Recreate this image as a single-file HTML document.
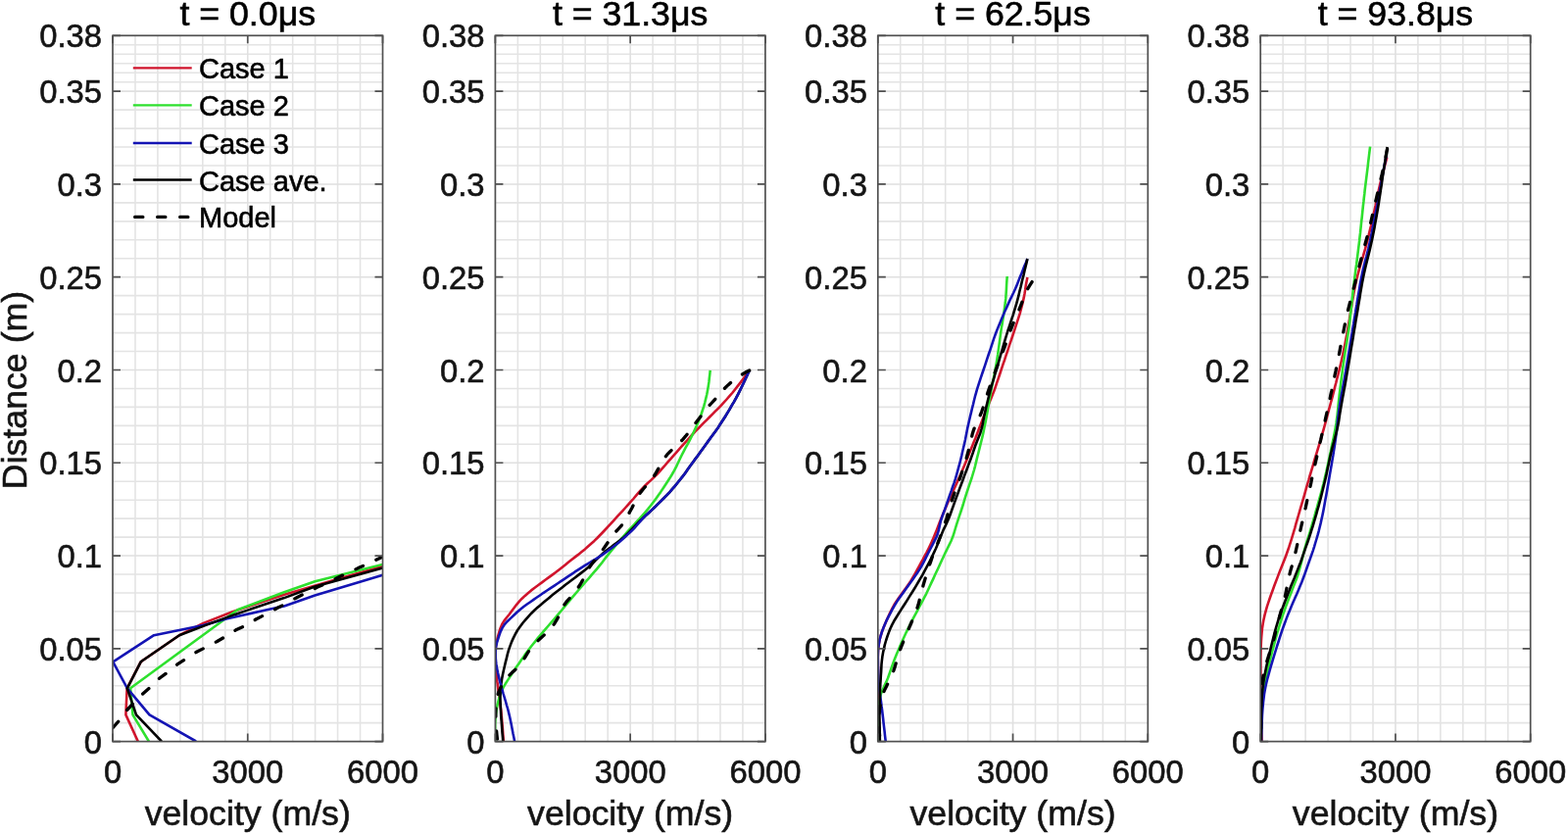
<!DOCTYPE html><html><head><meta charset="utf-8"><title>Velocity profiles</title>
<style>html,body{margin:0;padding:0;background:#fff;}svg{display:block;}text{font-family:'Liberation Sans', Arial, Helvetica, sans-serif;fill:#000;stroke:#000;stroke-width:0.6px;}text.g{fill:#141414;stroke:#141414;}</style></head><body>
<svg width="1600" height="851" viewBox="0 0 1600 851">
<rect width="1600" height="851" fill="#fff"/>
<g>
<path d="M137.96 36.30V756.60M160.92 36.30V756.60M183.88 36.30V756.60M206.83 36.30V756.60M229.79 36.30V756.60M275.71 36.30V756.60M298.67 36.30V756.60M321.62 36.30V756.60M344.58 36.30V756.60M367.54 36.30V756.60M115.00 737.64H390.50M115.00 718.69H390.50M115.00 699.73H390.50M115.00 680.78H390.50M115.00 642.87H390.50M115.00 623.91H390.50M115.00 604.96H390.50M115.00 586.00H390.50M115.00 548.09H390.50M115.00 529.14H390.50M115.00 510.18H390.50M115.00 491.23H390.50M115.00 453.32H390.50M115.00 434.36H390.50M115.00 415.41H390.50M115.00 396.45H390.50M115.00 358.54H390.50M115.00 339.58H390.50M115.00 320.63H390.50M115.00 301.67H390.50M115.00 263.76H390.50M115.00 244.81H390.50M115.00 225.85H390.50M115.00 206.90H390.50M115.00 168.99H390.50M115.00 150.03H390.50M115.00 131.08H390.50M115.00 112.12H390.50M115.00 83.69H390.50M115.00 74.21H390.50M115.00 64.73H390.50M115.00 55.26H390.50M115.00 45.78H390.50" stroke="#e4e4e4" stroke-width="1.6" fill="none"/>
<path d="M252.75 36.30V756.60M115.00 661.82H390.50M115.00 567.05H390.50M115.00 472.27H390.50M115.00 377.49H390.50M115.00 282.72H390.50M115.00 187.94H390.50M115.00 93.17H390.50" stroke="#e0e0e0" stroke-width="1.6" fill="none"/>
<g fill="none" stroke-linejoin="round" stroke-linecap="butt">
<clipPath id="c0"><rect x="115.00" y="36.30" width="275.50" height="720.30"/></clipPath>
<g clip-path="url(#c0)">
<path d="M140.8 756.5L128.4 729.4L129.6 702.3L143.7 675.3L183.0 648.2L207.5 635.9L237.3 624.3L290.0 606.8L391.5 577.2" stroke="#d0142c" stroke-width="2.60"/>
<path d="M151.9 756.5L135.5 729.4L133.1 702.3L242.4 622.3L290.0 604.2L321.4 593.3L391.5 575.6" stroke="#2ee02e" stroke-width="2.60"/>
<path d="M200.1 756.5L152.5 729.4L129.9 702.3L115.3 675.3L157.1 648.2L207.5 637.9L230.8 631.4L272.2 622.3L290.0 618.5L321.4 607.5L391.5 586.5" stroke="#1414b4" stroke-width="2.60"/>
<path d="M164.9 756.5L139.0 729.4L129.8 702.3L143.7 675.3L183.0 648.2L210.1 637.9L239.9 626.9L290.0 610.1L321.4 598.5L391.5 579.3" stroke="#000000" stroke-width="2.60"/>
<path d="M115.3 742.5L122.6 734.0L129.6 724.5L136.7 717.0L145.5 708.2L154.3 700.5L162.5 692.3L171.9 685.3L181.7 677.3L191.0 671.5L201.0 665.0L211.4 659.8L221.1 654.7L231.5 648.8L241.3 642.4L251.6 637.9L262.0 631.4L272.3 626.3L282.7 620.5L293.0 615.3L303.3 609.5L313.7 604.3L324.0 599.1L334.4 594.6L346.0 588.8L355.7 584.3L366.7 579.1L377.0 574.6L391.5 567.6" stroke="#000000" stroke-width="3.30" stroke-dasharray="8.3 14.7" stroke-linecap="round"/>
</g></g>
<rect x="115.00" y="36.30" width="275.50" height="720.30" fill="none" stroke="#505050" stroke-width="1.7"/>
<path d="M115.00 756.60h8.00M390.50 756.60h-8.00M115.00 661.82h8.00M390.50 661.82h-8.00M115.00 567.05h8.00M390.50 567.05h-8.00M115.00 472.27h8.00M390.50 472.27h-8.00M115.00 377.49h8.00M390.50 377.49h-8.00M115.00 282.72h8.00M390.50 282.72h-8.00M115.00 187.94h8.00M390.50 187.94h-8.00M115.00 93.17h8.00M390.50 93.17h-8.00M115.00 36.30h8.00M390.50 36.30h-8.00M115.00 756.60v-8.00M115.00 36.30v8.00M252.75 756.60v-8.00M252.75 36.30v8.00M390.50 756.60v-8.00M390.50 36.30v8.00" stroke="#505050" stroke-width="1.7" fill="none"/>
<text x="104.10" y="768.70" font-size="32.8" text-anchor="end" class="g">0</text>
<text x="104.10" y="673.92" font-size="32.8" text-anchor="end" class="g">0.05</text>
<text x="104.10" y="579.15" font-size="32.8" text-anchor="end" class="g">0.1</text>
<text x="104.10" y="484.37" font-size="32.8" text-anchor="end" class="g">0.15</text>
<text x="104.10" y="389.59" font-size="32.8" text-anchor="end" class="g">0.2</text>
<text x="104.10" y="294.82" font-size="32.8" text-anchor="end" class="g">0.25</text>
<text x="104.10" y="200.04" font-size="32.8" text-anchor="end" class="g">0.3</text>
<text x="104.10" y="105.27" font-size="32.8" text-anchor="end" class="g">0.35</text>
<text x="104.10" y="48.40" font-size="32.8" text-anchor="end" class="g">0.38</text>
<text x="115.00" y="798.70" font-size="32.8" text-anchor="middle" class="g">0</text>
<text x="252.75" y="798.70" font-size="32.8" text-anchor="middle" class="g">3000</text>
<text x="390.50" y="798.70" font-size="32.8" text-anchor="middle" class="g">6000</text>
<text x="252.75" y="841.90" font-size="35.7" text-anchor="middle" class="g">velocity (m/s)</text>
<text x="252.75" y="26.00" font-size="35.7" text-anchor="middle">t = 0.0μs</text>
</g>
<g>
<path d="M528.36 36.30V756.60M551.32 36.30V756.60M574.27 36.30V756.60M597.23 36.30V756.60M620.19 36.30V756.60M666.11 36.30V756.60M689.07 36.30V756.60M712.02 36.30V756.60M734.98 36.30V756.60M757.94 36.30V756.60M505.40 737.64H780.90M505.40 718.69H780.90M505.40 699.73H780.90M505.40 680.78H780.90M505.40 642.87H780.90M505.40 623.91H780.90M505.40 604.96H780.90M505.40 586.00H780.90M505.40 548.09H780.90M505.40 529.14H780.90M505.40 510.18H780.90M505.40 491.23H780.90M505.40 453.32H780.90M505.40 434.36H780.90M505.40 415.41H780.90M505.40 396.45H780.90M505.40 358.54H780.90M505.40 339.58H780.90M505.40 320.63H780.90M505.40 301.67H780.90M505.40 263.76H780.90M505.40 244.81H780.90M505.40 225.85H780.90M505.40 206.90H780.90M505.40 168.99H780.90M505.40 150.03H780.90M505.40 131.08H780.90M505.40 112.12H780.90M505.40 83.69H780.90M505.40 74.21H780.90M505.40 64.73H780.90M505.40 55.26H780.90M505.40 45.78H780.90" stroke="#e4e4e4" stroke-width="1.6" fill="none"/>
<path d="M643.15 36.30V756.60M505.40 661.82H780.90M505.40 567.05H780.90M505.40 472.27H780.90M505.40 377.49H780.90M505.40 282.72H780.90M505.40 187.94H780.90M505.40 93.17H780.90" stroke="#e0e0e0" stroke-width="1.6" fill="none"/>
<g fill="none" stroke-linejoin="round" stroke-linecap="butt">
<clipPath id="c1"><rect x="505.40" y="36.30" width="275.50" height="720.30"/></clipPath>
<g clip-path="url(#c1)">
<path d="M764.7 378.0L762.3 381.3L759.9 384.5L757.5 387.8L755.0 391.1L752.4 394.4L749.8 397.7L747.2 401.0L744.4 404.2L741.5 407.5L738.6 410.7L735.7 413.8L732.8 416.8L729.9 419.7L727.0 422.6L724.1 425.5L721.3 428.3L718.4 431.2L715.5 434.1L712.7 437.0L709.8 439.9L706.9 443.0L704.1 446.1L701.2 449.3L698.4 452.4L695.5 455.5L692.8 458.7L690.0 461.8L687.3 464.9L684.5 468.1L681.7 471.2L678.9 474.5L676.1 477.7L673.3 480.9L670.3 484.1L667.2 487.1L664.1 490.1L660.9 493.0L657.8 496.0L654.8 499.2L651.9 502.4L649.1 505.7L646.3 509.0L643.4 512.2L640.6 515.4L637.8 518.5L635.0 521.6L632.1 524.7L629.3 527.7L626.5 530.8L623.7 533.9L620.9 536.9L618.0 540.0L615.2 543.0L612.3 546.0L609.4 549.0L606.4 551.9L603.2 554.7L600.1 557.5L596.9 560.4L593.6 563.1L590.1 565.9L586.5 568.6L583.1 571.2L579.9 573.8L576.7 576.4L573.5 578.9L570.3 581.4L567.0 584.0L563.5 586.6L560.0 589.1L556.4 591.7L552.9 594.4L549.3 597.0L545.6 599.7L542.1 602.4L538.8 605.2L535.7 607.9L532.7 610.7L529.9 613.6L527.2 616.8L524.8 620.0L522.3 623.3L519.8 626.7L517.1 630.0L514.5 633.4L512.3 637.0L510.6 640.9L509.3 645.1L508.1 649.3L507.0 653.6L506.2 657.8L505.7 662.1L505.4 666.4L505.4 670.6L505.5 674.7L505.8 678.7L506.1 682.7L506.4 686.8L506.8 690.9L507.3 695.2L507.9 699.5L508.4 703.8L509.0 708.1L509.6 712.4L510.2 716.7L510.7 721.0L511.3 725.3L511.7 729.6L512.1 733.8L512.4 738.0L512.8 742.2L513.1 746.4L513.4 750.6L513.7 754.8L513.9 756.9" stroke="#d0142c" stroke-width="2.60"/>
<path d="M724.7 377.8L724.3 381.8L723.8 385.8L723.4 389.9L722.8 393.9L722.1 398.0L721.3 402.2L720.3 406.4L719.3 410.5L718.2 414.6L716.9 418.5L715.6 422.5L714.0 426.5L712.4 430.8L710.6 434.9L708.8 438.9L707.0 442.7L705.2 446.4L703.3 450.1L701.4 453.7L699.4 457.2L697.5 460.8L695.6 464.5L693.8 468.3L691.9 472.2L690.1 476.1L688.0 480.1L685.8 484.0L683.5 487.8L681.1 491.5L678.8 495.0L676.5 498.4L674.2 501.9L671.7 505.4L669.2 508.9L666.6 512.5L663.9 516.0L661.2 519.4L658.3 522.8L655.4 526.1L652.5 529.4L649.6 532.5L646.8 535.6L643.9 538.7L641.1 541.7L638.3 544.8L635.5 548.0L632.6 551.3L629.8 554.7L627.0 558.1L624.2 561.4L621.6 564.7L619.0 567.9L616.6 571.0L614.2 574.2L611.6 577.4L609.0 580.6L606.3 583.7L603.5 586.9L600.8 590.1L598.0 593.2L595.2 596.5L592.4 599.7L589.6 603.0L586.7 606.3L583.9 609.6L581.2 612.8L578.5 616.1L575.8 619.4L573.1 622.7L570.4 625.9L567.7 629.1L565.0 632.3L562.3 635.4L559.6 638.5L556.9 641.6L554.3 644.7L551.6 647.8L549.0 650.9L546.5 654.1L543.9 657.3L541.3 660.5L538.9 663.7L536.4 667.1L534.1 670.5L531.7 673.8L529.4 677.2L527.0 680.6L524.7 684.0L522.4 687.5L520.2 690.9L517.9 694.4L515.7 697.8L513.6 701.4L511.8 705.2L510.3 709.1L509.1 713.2L508.0 717.3L507.1 721.4L506.4 725.6L505.9 729.8L505.5 734.0L505.2 738.2L505.2 742.3L505.2 746.5L505.2 750.7L505.2 754.8L505.2 756.9" stroke="#2ee02e" stroke-width="2.60"/>
<path d="M764.7 378.0L762.8 382.2L760.8 386.4L758.9 390.5L757.0 394.5L755.1 398.4L753.1 402.3L751.1 406.2L748.9 410.1L746.6 413.9L744.4 417.8L742.1 421.6L739.9 425.2L737.6 428.8L735.3 432.3L733.0 435.9L730.5 439.4L727.9 443.0L725.3 446.6L722.7 450.1L720.1 453.7L717.6 457.2L715.0 460.8L712.4 464.4L709.8 467.9L707.2 471.5L704.6 475.1L701.9 478.8L699.2 482.7L696.4 486.4L693.7 489.8L691.1 493.0L688.6 496.1L685.9 499.2L683.2 502.3L680.3 505.4L677.2 508.5L674.1 511.6L671.0 514.7L667.9 517.7L664.8 520.6L661.7 523.5L658.6 526.3L655.5 529.2L652.5 532.0L649.7 534.9L646.9 537.8L644.1 540.7L641.3 543.6L638.5 546.4L635.5 549.1L632.4 551.6L629.1 554.0L625.9 556.4L622.7 558.9L619.4 561.3L616.2 563.8L613.1 566.6L609.9 569.6L606.8 572.7L603.6 575.8L600.4 578.7L597.1 581.5L593.7 584.1L590.4 586.6L587.0 589.2L583.6 591.7L580.3 594.3L576.9 596.8L573.6 599.4L570.3 602.0L567.0 604.5L563.8 607.1L560.7 609.7L557.6 612.3L554.5 614.8L551.4 617.4L548.3 620.1L545.3 622.8L542.3 625.7L539.4 628.9L536.5 632.1L533.6 635.5L530.8 639.2L528.1 643.0L525.8 647.1L523.8 651.1L522.0 655.1L520.5 659.1L519.1 663.2L517.9 667.4L516.9 671.6L515.8 675.9L514.8 680.2L513.8 684.5L512.9 688.8L512.1 693.1L511.5 697.4L510.9 701.6L510.6 706.0L510.5 710.3L510.5 714.6L510.7 718.9L510.9 723.2L511.1 727.5L511.3 731.7L511.7 735.9L512.0 740.1L512.3 744.3L512.6 748.5L513.0 752.7L513.3 756.9" stroke="#000000" stroke-width="2.60"/>
<path d="M764.7 378.0L762.8 382.2L760.8 386.4L758.9 390.5L757.0 394.5L755.1 398.4L753.1 402.3L751.1 406.2L748.9 410.1L746.6 413.9L744.4 417.8L742.1 421.6L739.9 425.2L737.6 428.8L735.3 432.3L733.0 435.9L730.5 439.4L727.9 443.0L725.3 446.6L722.7 450.1L720.1 453.7L717.6 457.2L715.0 460.8L712.4 464.4L709.8 467.9L707.2 471.5L704.6 475.1L701.9 478.8L699.2 482.7L696.4 486.4L693.7 489.8L691.1 493.0L688.6 496.1L685.9 499.2L683.2 502.3L680.3 505.4L677.2 508.5L674.1 511.6L671.0 514.7L667.9 517.7L664.8 520.6L661.7 523.5L658.6 526.3L655.6 529.3L652.7 532.7L649.8 536.0L646.9 539.4L643.9 542.3L640.8 545.1L637.7 548.0L634.6 550.8L631.5 553.5L628.2 556.1L624.8 558.7L621.4 561.2L618.0 563.7L614.6 566.1L611.1 568.4L607.6 570.5L604.1 572.6L600.5 574.8L597.0 576.9L593.5 579.1L590.0 581.4L586.4 583.7L582.9 586.1L579.4 588.4L575.8 590.8L572.3 593.1L568.8 595.5L565.3 597.8L561.8 600.1L558.2 602.5L554.7 604.8L551.3 607.2L547.9 609.5L544.5 611.9L541.2 614.2L537.8 616.5L534.4 619.0L531.0 621.8L527.5 624.8L524.1 628.0L520.8 631.1L517.5 634.2L514.7 637.4L512.5 640.9L510.7 644.6L509.4 648.4L508.1 652.3L506.9 656.2L506.1 660.3L505.7 664.6L505.7 669.0L505.9 673.5L506.4 678.0L507.2 682.4L508.1 686.8L509.1 691.1L510.1 695.3L511.2 699.4L512.4 703.5L513.5 707.5L514.7 711.5L515.9 715.5L517.0 719.5L518.2 723.5L519.2 727.6L520.2 731.7L521.1 735.9L521.9 740.1L522.7 744.3L523.5 748.5L524.4 752.7L525.2 756.9" stroke="#1414b4" stroke-width="2.60"/>
<path d="M764.7 378.0L760.5 380.1L756.6 382.5L752.9 384.9L749.5 387.5L746.1 390.1L742.9 392.9L739.9 395.8L737.0 398.8L734.4 401.9L731.7 405.2L728.8 408.3L725.9 411.5L722.9 414.7L720.2 418.1L717.6 421.5L715.0 424.9L712.4 428.3L709.8 431.6L707.2 435.1L704.6 438.5L702.1 441.9L699.5 445.2L696.8 448.3L693.9 451.4L690.6 454.5L687.1 457.6L683.8 460.8L680.7 463.9L678.0 467.4L675.6 471.1L673.5 475.0L671.4 478.9L669.3 482.6L667.1 486.3L664.7 489.6L662.0 492.7L659.2 495.8L656.4 499.0L653.7 502.4L651.3 506.3L649.1 510.2L646.9 514.3L644.9 518.2L642.8 522.0L640.8 525.8L638.7 529.8L636.3 533.6L633.4 537.2L630.2 540.6L627.1 543.8L624.5 547.2L622.2 550.6L619.9 554.0L617.5 557.5L615.1 561.0L612.5 564.5L609.9 567.9L607.1 571.3L604.4 574.7L601.9 578.2L599.8 581.8L597.9 585.5L596.0 589.3L594.1 592.9L592.0 596.5L589.7 599.9L587.1 603.4L584.4 606.8L581.4 610.2L578.4 613.6L575.8 617.1L573.6 620.7L571.9 624.5L570.3 628.4L568.3 632.2L566.0 635.9L563.4 639.4L560.6 642.6L557.8 645.5L554.8 648.4L551.6 651.3L548.4 654.3L545.4 657.3L542.6 660.5L540.1 663.7L537.9 667.1L535.8 670.6L533.7 674.1L531.3 677.5L528.6 680.5L525.7 683.4L522.7 686.1L519.8 688.9L517.1 692.0L514.7 695.3L512.4 698.9L510.4 702.6L508.6 706.6L507.4 710.8L506.6 715.4L506.2 719.9L505.9 724.3L505.8 728.6L505.9 732.8L506.1 737.0L506.3 741.3L506.6 745.7L507.0 750.1L507.5 754.6L507.7 756.9" stroke="#000000" stroke-width="3.30" stroke-dasharray="8.3 14.7" stroke-linecap="round"/>
</g></g>
<rect x="505.40" y="36.30" width="275.50" height="720.30" fill="none" stroke="#505050" stroke-width="1.7"/>
<path d="M505.40 756.60h8.00M780.90 756.60h-8.00M505.40 661.82h8.00M780.90 661.82h-8.00M505.40 567.05h8.00M780.90 567.05h-8.00M505.40 472.27h8.00M780.90 472.27h-8.00M505.40 377.49h8.00M780.90 377.49h-8.00M505.40 282.72h8.00M780.90 282.72h-8.00M505.40 187.94h8.00M780.90 187.94h-8.00M505.40 93.17h8.00M780.90 93.17h-8.00M505.40 36.30h8.00M780.90 36.30h-8.00M505.40 756.60v-8.00M505.40 36.30v8.00M643.15 756.60v-8.00M643.15 36.30v8.00M780.90 756.60v-8.00M780.90 36.30v8.00" stroke="#505050" stroke-width="1.7" fill="none"/>
<text x="494.50" y="768.70" font-size="32.8" text-anchor="end" class="g">0</text>
<text x="494.50" y="673.92" font-size="32.8" text-anchor="end" class="g">0.05</text>
<text x="494.50" y="579.15" font-size="32.8" text-anchor="end" class="g">0.1</text>
<text x="494.50" y="484.37" font-size="32.8" text-anchor="end" class="g">0.15</text>
<text x="494.50" y="389.59" font-size="32.8" text-anchor="end" class="g">0.2</text>
<text x="494.50" y="294.82" font-size="32.8" text-anchor="end" class="g">0.25</text>
<text x="494.50" y="200.04" font-size="32.8" text-anchor="end" class="g">0.3</text>
<text x="494.50" y="105.27" font-size="32.8" text-anchor="end" class="g">0.35</text>
<text x="494.50" y="48.40" font-size="32.8" text-anchor="end" class="g">0.38</text>
<text x="505.40" y="798.70" font-size="32.8" text-anchor="middle" class="g">0</text>
<text x="643.15" y="798.70" font-size="32.8" text-anchor="middle" class="g">3000</text>
<text x="780.90" y="798.70" font-size="32.8" text-anchor="middle" class="g">6000</text>
<text x="643.15" y="841.90" font-size="35.7" text-anchor="middle" class="g">velocity (m/s)</text>
<text x="643.15" y="26.00" font-size="35.7" text-anchor="middle">t = 31.3μs</text>
</g>
<g>
<path d="M918.76 36.30V756.60M941.72 36.30V756.60M964.67 36.30V756.60M987.63 36.30V756.60M1010.59 36.30V756.60M1056.51 36.30V756.60M1079.47 36.30V756.60M1102.42 36.30V756.60M1125.38 36.30V756.60M1148.34 36.30V756.60M895.80 737.64H1171.30M895.80 718.69H1171.30M895.80 699.73H1171.30M895.80 680.78H1171.30M895.80 642.87H1171.30M895.80 623.91H1171.30M895.80 604.96H1171.30M895.80 586.00H1171.30M895.80 548.09H1171.30M895.80 529.14H1171.30M895.80 510.18H1171.30M895.80 491.23H1171.30M895.80 453.32H1171.30M895.80 434.36H1171.30M895.80 415.41H1171.30M895.80 396.45H1171.30M895.80 358.54H1171.30M895.80 339.58H1171.30M895.80 320.63H1171.30M895.80 301.67H1171.30M895.80 263.76H1171.30M895.80 244.81H1171.30M895.80 225.85H1171.30M895.80 206.90H1171.30M895.80 168.99H1171.30M895.80 150.03H1171.30M895.80 131.08H1171.30M895.80 112.12H1171.30M895.80 83.69H1171.30M895.80 74.21H1171.30M895.80 64.73H1171.30M895.80 55.26H1171.30M895.80 45.78H1171.30" stroke="#e4e4e4" stroke-width="1.6" fill="none"/>
<path d="M1033.55 36.30V756.60M895.80 661.82H1171.30M895.80 567.05H1171.30M895.80 472.27H1171.30M895.80 377.49H1171.30M895.80 282.72H1171.30M895.80 187.94H1171.30M895.80 93.17H1171.30" stroke="#e0e0e0" stroke-width="1.6" fill="none"/>
<g fill="none" stroke-linejoin="round" stroke-linecap="butt">
<clipPath id="c2"><rect x="895.80" y="36.30" width="275.50" height="720.30"/></clipPath>
<g clip-path="url(#c2)">
<path d="M1048.4 282.9L1047.6 287.0L1046.8 291.1L1046.2 295.4L1045.5 299.7L1044.7 303.9L1043.8 307.9L1042.8 311.9L1041.8 315.8L1040.7 319.8L1039.5 323.7L1038.2 327.7L1036.9 331.6L1035.6 335.6L1034.3 339.5L1033.0 343.5L1031.7 347.4L1030.3 351.4L1029.0 355.3L1027.7 359.3L1026.4 363.2L1025.1 367.2L1023.7 371.1L1022.4 375.1L1021.1 379.0L1019.8 383.0L1018.5 386.9L1017.1 390.9L1015.8 394.8L1014.4 398.8L1012.8 402.7L1011.2 406.7L1009.6 410.6L1007.9 414.6L1006.4 418.5L1004.8 422.4L1003.3 426.3L1001.8 430.2L1000.3 434.1L998.7 438.3L997.1 442.5L995.5 446.7L993.8 450.7L992.3 454.6L990.7 458.5L989.1 462.5L987.6 466.4L986.0 470.3L984.4 474.2L982.8 478.1L981.1 482.0L979.4 486.0L977.6 489.9L975.9 493.8L974.1 497.7L972.4 501.6L970.6 505.4L968.8 509.2L967.1 513.1L965.4 517.0L963.7 520.9L962.1 524.9L960.4 529.0L958.8 533.0L957.2 537.1L955.7 541.1L954.1 545.1L952.5 548.9L950.9 552.6L949.2 556.3L947.4 560.0L945.6 563.6L943.6 567.2L941.7 570.9L939.7 574.5L937.7 578.1L935.6 581.8L933.6 585.5L931.5 589.2L929.3 592.9L926.9 596.5L924.4 600.1L921.8 603.6L919.3 607.1L916.8 610.5L914.4 613.9L912.2 617.5L910.3 621.1L908.4 624.9L906.6 628.7L904.9 632.6L903.2 636.6L901.5 640.6L899.9 644.8L898.6 649.0L897.5 653.3L896.7 657.7L896.1 662.1L895.9 666.5L895.8 670.8L895.8 675.1L895.9 679.3L896.0 683.5L896.0 687.6L896.1 691.7L896.2 695.9L896.3 700.0L896.4 704.2L896.5 708.5L896.5 712.7L896.6 716.9L896.7 721.2L896.8 725.4L896.8 729.6L896.9 733.8L897.0 737.9L897.0 742.1L897.1 746.3L897.2 750.4L897.3 754.6L897.3 756.7" stroke="#d0142c" stroke-width="2.60"/>
<path d="M1027.7 282.0L1027.4 286.4L1027.1 290.8L1026.9 295.3L1026.6 299.8L1026.3 304.4L1025.8 308.8L1025.2 313.2L1024.6 317.6L1024.0 322.0L1023.3 326.4L1022.6 330.7L1021.8 335.1L1021.2 339.5L1020.6 343.9L1020.0 348.3L1019.4 352.7L1018.8 357.1L1018.2 361.5L1017.5 365.9L1016.8 370.2L1016.0 374.6L1015.3 378.8L1014.5 382.9L1013.7 386.9L1012.8 390.9L1012.0 394.9L1011.2 399.0L1010.5 403.2L1009.7 407.6L1009.0 411.9L1008.2 416.3L1007.5 420.6L1006.7 424.9L1005.9 429.2L1005.0 433.6L1004.1 438.0L1003.2 442.4L1002.2 446.7L1001.2 450.7L1000.2 454.6L999.2 458.6L998.2 462.7L997.1 466.9L996.1 471.1L995.1 475.3L994.0 479.5L992.8 483.5L991.6 487.5L990.3 491.3L989.0 495.1L987.7 499.0L986.4 502.8L985.2 506.7L984.0 510.6L982.9 514.5L981.6 518.5L980.3 522.5L978.9 526.7L977.5 530.8L976.1 535.1L974.8 539.5L973.5 543.8L972.1 548.1L970.4 552.2L968.5 556.1L966.6 560.0L964.7 563.8L962.9 567.7L961.1 571.5L959.4 575.3L957.6 579.2L955.8 583.0L954.0 586.8L952.3 590.6L950.5 594.4L948.7 598.2L947.0 602.0L945.2 605.8L943.3 609.4L941.4 613.1L939.5 616.6L937.6 620.2L935.7 623.8L933.8 627.3L931.9 630.9L930.1 634.5L928.3 638.1L926.5 641.7L924.7 645.3L923.0 649.0L921.3 652.8L919.6 656.6L917.9 660.4L916.3 664.2L914.7 668.1L913.1 672.0L911.6 675.9L910.2 679.9L908.8 683.9L907.4 688.0L906.0 692.0L904.3 695.9L902.4 699.9L900.6 704.0L898.9 708.1L898.0 712.5L897.3 716.8L896.9 721.1L896.6 725.4L896.3 729.7L896.2 733.9L896.1 738.1L896.2 742.3L896.3 746.4L896.4 750.5L896.5 754.6L896.6 756.7" stroke="#2ee02e" stroke-width="2.60"/>
<path d="M1048.4 264.1L1046.9 267.9L1045.3 271.6L1043.8 275.4L1042.3 279.2L1040.7 283.0L1039.2 286.9L1037.6 290.9L1036.0 294.7L1034.3 298.5L1032.5 302.2L1030.7 305.9L1028.9 309.9L1027.1 313.9L1025.3 317.8L1023.6 321.8L1021.9 325.7L1020.3 329.7L1018.7 333.6L1017.1 337.5L1015.6 341.5L1014.2 345.4L1012.9 349.4L1011.6 353.4L1010.3 357.3L1008.9 361.3L1007.6 365.2L1006.3 369.2L1005.0 373.1L1003.7 377.0L1002.3 381.0L1001.0 384.9L999.7 388.9L998.4 392.9L997.1 396.8L996.0 400.8L994.9 404.7L993.9 408.7L993.0 412.6L992.0 416.5L991.1 420.4L990.1 424.4L989.2 428.3L988.3 432.2L987.4 436.1L986.6 440.2L985.8 444.3L985.0 448.5L984.1 452.6L983.1 456.8L982.1 461.0L981.2 465.1L980.2 469.2L979.2 473.2L978.1 477.1L977.1 480.9L976.0 484.8L974.9 488.7L973.6 492.6L972.2 496.5L970.9 500.4L969.5 504.3L968.1 508.3L966.7 512.2L965.4 516.1L964.0 520.1L962.5 524.0L961.1 528.0L959.8 532.2L958.8 536.5L957.9 540.8L956.7 545.0L955.1 548.9L953.2 552.6L951.3 556.3L949.4 560.0L947.5 563.6L945.7 567.2L943.9 570.8L942.1 574.4L940.2 577.9L938.1 581.4L935.9 584.7L933.6 588.0L931.4 591.3L929.0 594.6L926.7 597.8L924.3 601.1L921.9 604.4L919.5 607.7L917.1 611.0L914.9 614.4L912.8 617.9L910.7 621.5L908.8 625.2L906.8 628.8L904.9 632.6L903.2 636.6L901.5 640.6L899.9 644.8L898.6 649.0L897.5 653.3L896.7 657.7L896.1 662.1L895.9 666.5L895.8 670.8L895.9 675.1L895.9 679.3L896.1 683.5L896.2 687.6L896.3 691.7L896.5 695.9L896.8 700.0L897.3 704.1L897.9 708.2L898.5 712.4L899.1 716.7L899.6 721.0L900.2 725.3L900.7 729.6L901.2 733.8L901.6 737.9L902.1 742.1L902.6 746.3L903.0 750.4L903.5 754.6L903.7 756.7" stroke="#1414b4" stroke-width="2.60"/>
<path d="M1048.4 264.1L1047.5 268.1L1046.5 272.2L1045.5 276.2L1044.6 280.3L1043.5 284.5L1042.5 288.6L1041.5 293.0L1040.4 297.3L1039.4 301.7L1038.3 305.9L1037.2 309.9L1036.0 313.9L1034.8 317.8L1033.6 321.8L1032.3 325.7L1031.0 329.7L1029.7 333.6L1028.4 337.5L1027.2 341.5L1026.0 345.4L1024.8 349.4L1023.6 353.4L1022.5 357.3L1021.3 361.3L1020.2 365.2L1019.1 369.2L1017.9 373.1L1016.8 377.0L1015.6 381.0L1014.5 384.9L1013.3 388.9L1012.1 392.9L1011.0 396.8L1009.9 400.8L1008.9 404.7L1007.9 408.7L1007.0 412.6L1006.0 416.6L1005.1 420.7L1004.2 424.9L1003.4 429.2L1002.6 433.6L1001.5 437.8L1000.3 441.9L998.7 445.9L997.1 449.9L995.6 453.8L994.2 457.8L992.9 461.7L991.5 465.6L990.1 469.5L988.6 473.4L987.2 477.2L985.8 481.0L984.3 484.9L982.9 488.7L981.5 492.6L980.0 496.4L978.6 500.3L977.2 504.1L975.7 508.0L974.3 511.9L972.9 515.9L971.4 520.0L970.0 524.0L968.5 528.0L966.8 532.0L964.9 536.1L962.9 540.1L961.2 544.2L959.5 548.1L958.0 552.1L956.5 556.0L954.8 560.0L953.0 563.9L951.1 567.8L949.2 571.7L947.2 575.6L945.2 579.4L943.2 583.1L941.2 586.8L939.1 590.4L937.0 594.0L934.9 597.6L932.7 601.2L930.5 604.8L928.2 608.4L925.9 612.1L923.6 615.7L921.3 619.3L919.0 622.9L916.7 626.5L914.4 630.2L912.2 633.8L910.2 637.6L908.4 641.5L906.9 645.4L905.4 649.5L904.1 653.5L902.9 657.6L902.0 661.6L901.1 665.8L900.4 669.8L899.9 673.9L899.5 677.9L899.3 681.9L899.1 685.9L898.8 690.0L898.6 694.0L898.3 698.0L898.1 702.0L898.0 706.1L897.8 710.3L897.7 714.6L897.6 718.9L897.4 723.2L897.4 727.4L897.4 731.7L897.5 735.8L897.6 740.0L897.6 744.2L897.7 748.4L897.8 752.5L897.9 756.7" stroke="#000000" stroke-width="2.60"/>
<path d="M1053.1 287.6L1050.7 291.4L1048.4 295.2L1046.5 299.3L1044.8 303.4L1043.2 307.6L1041.6 311.7L1040.0 315.6L1038.4 319.5L1036.7 323.3L1035.1 327.1L1033.5 331.0L1032.0 334.8L1030.5 338.7L1029.2 342.5L1027.8 346.4L1026.5 350.2L1025.1 354.1L1023.6 358.0L1022.2 361.8L1020.7 365.7L1019.2 369.6L1017.7 373.5L1016.2 377.4L1014.8 381.2L1013.4 385.1L1012.1 388.9L1010.7 392.7L1009.3 396.6L1008.0 400.4L1006.7 404.3L1005.5 408.2L1004.3 412.1L1003.1 416.0L1001.8 419.8L1000.3 423.6L998.6 427.3L996.7 431.0L995.0 434.8L993.5 438.8L992.2 443.0L991.2 447.3L990.2 451.5L989.2 455.7L988.2 459.8L987.1 464.0L986.0 468.1L984.7 472.2L983.4 476.3L982.0 480.5L980.7 484.6L979.3 488.6L977.9 492.5L976.5 496.4L975.0 500.3L973.6 504.1L972.2 508.1L970.8 512.1L969.6 516.2L968.4 520.5L967.1 524.7L965.9 528.9L964.5 533.1L963.1 537.4L961.7 541.6L960.2 545.7L958.7 549.7L957.1 553.7L955.6 557.6L954.0 561.6L952.4 565.6L950.9 569.5L949.6 573.4L948.2 577.3L947.0 581.1L945.8 585.0L944.6 588.8L943.4 592.7L942.2 596.7L941.2 600.7L940.2 604.7L939.1 608.8L938.1 612.8L937.1 616.8L935.8 620.8L934.4 624.8L932.8 628.7L931.1 632.6L929.5 636.5L927.8 640.4L926.2 644.2L924.5 648.1L922.9 652.0L921.3 655.9L919.7 659.8L918.2 663.8L916.8 667.9L915.6 672.1L914.4 676.2L913.2 680.4L911.8 684.5L910.3 688.5L908.5 692.4L906.6 696.2L904.7 699.9L902.8 703.7L901.1 707.6L899.8 711.8L898.8 716.0L898.1 720.5L897.4 725.2L897.0 730.0L896.9 734.7L896.9 739.1L897.2 743.5L897.4 747.9L897.7 752.3L897.9 756.7" stroke="#000000" stroke-width="3.30" stroke-dasharray="8.3 14.7" stroke-linecap="round"/>
</g></g>
<rect x="895.80" y="36.30" width="275.50" height="720.30" fill="none" stroke="#505050" stroke-width="1.7"/>
<path d="M895.80 756.60h8.00M1171.30 756.60h-8.00M895.80 661.82h8.00M1171.30 661.82h-8.00M895.80 567.05h8.00M1171.30 567.05h-8.00M895.80 472.27h8.00M1171.30 472.27h-8.00M895.80 377.49h8.00M1171.30 377.49h-8.00M895.80 282.72h8.00M1171.30 282.72h-8.00M895.80 187.94h8.00M1171.30 187.94h-8.00M895.80 93.17h8.00M1171.30 93.17h-8.00M895.80 36.30h8.00M1171.30 36.30h-8.00M895.80 756.60v-8.00M895.80 36.30v8.00M1033.55 756.60v-8.00M1033.55 36.30v8.00M1171.30 756.60v-8.00M1171.30 36.30v8.00" stroke="#505050" stroke-width="1.7" fill="none"/>
<text x="884.90" y="768.70" font-size="32.8" text-anchor="end" class="g">0</text>
<text x="884.90" y="673.92" font-size="32.8" text-anchor="end" class="g">0.05</text>
<text x="884.90" y="579.15" font-size="32.8" text-anchor="end" class="g">0.1</text>
<text x="884.90" y="484.37" font-size="32.8" text-anchor="end" class="g">0.15</text>
<text x="884.90" y="389.59" font-size="32.8" text-anchor="end" class="g">0.2</text>
<text x="884.90" y="294.82" font-size="32.8" text-anchor="end" class="g">0.25</text>
<text x="884.90" y="200.04" font-size="32.8" text-anchor="end" class="g">0.3</text>
<text x="884.90" y="105.27" font-size="32.8" text-anchor="end" class="g">0.35</text>
<text x="884.90" y="48.40" font-size="32.8" text-anchor="end" class="g">0.38</text>
<text x="895.80" y="798.70" font-size="32.8" text-anchor="middle" class="g">0</text>
<text x="1033.55" y="798.70" font-size="32.8" text-anchor="middle" class="g">3000</text>
<text x="1171.30" y="798.70" font-size="32.8" text-anchor="middle" class="g">6000</text>
<text x="1033.55" y="841.90" font-size="35.7" text-anchor="middle" class="g">velocity (m/s)</text>
<text x="1033.55" y="26.00" font-size="35.7" text-anchor="middle">t = 62.5μs</text>
</g>
<g>
<path d="M1309.16 36.30V756.60M1332.12 36.30V756.60M1355.07 36.30V756.60M1378.03 36.30V756.60M1400.99 36.30V756.60M1446.91 36.30V756.60M1469.87 36.30V756.60M1492.82 36.30V756.60M1515.78 36.30V756.60M1538.74 36.30V756.60M1286.20 737.64H1561.70M1286.20 718.69H1561.70M1286.20 699.73H1561.70M1286.20 680.78H1561.70M1286.20 642.87H1561.70M1286.20 623.91H1561.70M1286.20 604.96H1561.70M1286.20 586.00H1561.70M1286.20 548.09H1561.70M1286.20 529.14H1561.70M1286.20 510.18H1561.70M1286.20 491.23H1561.70M1286.20 453.32H1561.70M1286.20 434.36H1561.70M1286.20 415.41H1561.70M1286.20 396.45H1561.70M1286.20 358.54H1561.70M1286.20 339.58H1561.70M1286.20 320.63H1561.70M1286.20 301.67H1561.70M1286.20 263.76H1561.70M1286.20 244.81H1561.70M1286.20 225.85H1561.70M1286.20 206.90H1561.70M1286.20 168.99H1561.70M1286.20 150.03H1561.70M1286.20 131.08H1561.70M1286.20 112.12H1561.70M1286.20 83.69H1561.70M1286.20 74.21H1561.70M1286.20 64.73H1561.70M1286.20 55.26H1561.70M1286.20 45.78H1561.70" stroke="#e4e4e4" stroke-width="1.6" fill="none"/>
<path d="M1423.95 36.30V756.60M1286.20 661.82H1561.70M1286.20 567.05H1561.70M1286.20 472.27H1561.70M1286.20 377.49H1561.70M1286.20 282.72H1561.70M1286.20 187.94H1561.70M1286.20 93.17H1561.70" stroke="#e0e0e0" stroke-width="1.6" fill="none"/>
<g fill="none" stroke-linejoin="round" stroke-linecap="butt">
<clipPath id="c3"><rect x="1286.20" y="36.30" width="275.50" height="720.30"/></clipPath>
<g clip-path="url(#c3)">
<path d="M1415.3 160.5L1414.2 164.7L1413.0 168.9L1412.0 173.0L1410.9 177.1L1409.9 181.1L1408.9 185.1L1407.9 189.2L1407.0 193.2L1406.1 197.4L1405.2 201.6L1404.3 205.8L1403.5 210.0L1402.6 214.2L1401.7 218.3L1400.8 222.4L1399.9 226.3L1399.0 230.3L1398.0 234.2L1397.1 238.1L1396.2 242.1L1395.2 246.0L1394.1 250.0L1393.1 253.9L1391.9 257.9L1390.8 261.8L1389.6 265.7L1388.4 269.7L1387.3 273.6L1386.2 277.6L1385.2 281.5L1384.2 285.5L1383.3 289.5L1382.5 293.5L1381.7 297.5L1381.0 301.5L1380.3 305.5L1379.6 309.5L1379.0 313.6L1378.3 317.6L1377.6 321.6L1377.0 325.7L1376.3 329.7L1375.6 333.7L1374.9 337.7L1374.2 341.8L1373.4 345.8L1372.7 349.8L1371.9 353.9L1371.0 357.9L1370.2 361.9L1369.3 366.0L1368.4 370.0L1367.4 374.1L1366.4 378.2L1365.4 382.3L1364.3 386.4L1363.3 390.5L1362.2 394.6L1361.2 398.7L1360.1 402.9L1359.0 407.2L1357.8 411.5L1356.6 415.9L1355.4 420.4L1354.2 424.8L1353.1 429.2L1351.9 433.5L1350.7 437.8L1349.5 442.0L1348.4 446.2L1347.2 450.3L1345.9 454.3L1344.7 458.3L1343.5 462.3L1342.3 466.2L1341.1 470.2L1340.0 474.1L1338.8 478.1L1337.6 482.1L1336.4 486.0L1335.3 490.0L1334.1 494.0L1333.0 497.9L1331.9 501.9L1330.8 505.8L1329.7 509.7L1328.5 513.7L1327.3 517.7L1326.1 521.8L1324.9 526.0L1323.7 530.1L1322.5 534.2L1321.4 538.3L1320.2 542.3L1319.0 546.3L1317.8 550.3L1316.6 554.2L1315.3 558.2L1313.9 562.2L1312.5 566.2L1311.0 570.2L1309.4 574.2L1307.8 578.3L1306.2 582.3L1304.6 586.4L1303.1 590.4L1301.5 594.5L1300.0 598.5L1298.6 602.5L1297.1 606.5L1295.7 610.5L1294.3 614.7L1292.9 618.9L1291.7 623.2L1290.5 627.6L1289.5 632.1L1288.7 636.6L1288.0 641.0L1287.6 645.4L1287.2 649.8L1286.9 654.1L1286.7 658.4L1286.6 662.6L1286.5 666.9L1286.4 671.0L1286.4 675.2L1286.4 679.3L1286.4 683.4L1286.4 687.6L1286.4 691.7L1286.4 695.8L1286.4 699.9L1286.4 704.0L1286.5 708.1L1286.6 712.2L1286.7 716.2L1286.8 720.2L1286.9 724.3L1286.9 728.4L1287.0 732.4L1287.1 736.5L1287.2 740.5L1287.3 744.6L1287.4 748.6L1287.5 752.6L1287.6 756.7" stroke="#d0142c" stroke-width="2.60"/>
<path d="M1398.1 149.7L1397.6 153.7L1397.1 157.7L1396.6 161.8L1396.1 165.8L1395.7 169.8L1395.2 173.8L1394.7 177.9L1394.2 181.9L1393.7 185.9L1393.2 189.9L1392.7 194.0L1392.3 198.0L1391.8 202.0L1391.4 206.0L1390.9 210.0L1390.5 214.0L1390.1 218.0L1389.7 222.0L1389.2 226.0L1388.8 230.0L1388.4 234.0L1388.0 238.0L1387.5 242.0L1387.1 246.0L1386.6 250.0L1386.1 254.0L1385.6 258.0L1385.1 262.0L1384.6 266.0L1384.1 270.0L1383.5 274.0L1383.0 278.0L1382.5 282.0L1382.0 286.0L1381.5 290.0L1381.0 294.0L1380.5 298.1L1380.1 302.1L1379.7 306.1L1379.2 310.2L1378.8 314.2L1378.4 318.2L1377.9 322.3L1377.5 326.3L1377.0 330.3L1376.5 334.4L1375.9 338.4L1375.3 342.4L1374.7 346.5L1374.1 350.5L1373.4 354.5L1372.7 358.6L1372.1 362.6L1371.5 366.6L1370.9 370.6L1370.3 374.7L1369.8 378.7L1369.3 382.7L1368.7 386.8L1368.2 390.8L1367.7 394.9L1367.2 398.9L1366.7 403.0L1366.3 407.0L1365.8 411.1L1365.4 415.3L1365.0 419.4L1364.6 423.6L1364.0 427.8L1363.5 431.9L1362.8 436.1L1362.0 440.2L1361.2 444.3L1360.4 448.4L1359.5 452.5L1358.6 456.6L1357.8 460.7L1356.9 464.8L1356.1 468.9L1355.2 473.0L1354.3 477.1L1353.4 481.2L1352.4 485.3L1351.5 489.4L1350.5 493.5L1349.4 497.6L1348.4 501.7L1347.2 505.8L1346.1 509.9L1344.9 514.0L1343.8 518.1L1342.6 522.2L1341.5 526.3L1340.3 530.4L1339.1 534.5L1337.9 538.6L1336.7 542.7L1335.4 546.8L1334.1 550.9L1332.8 555.0L1331.6 559.2L1330.5 563.3L1329.5 567.5L1328.5 571.6L1327.4 575.7L1326.4 579.7L1325.2 583.7L1324.0 587.6L1322.6 591.5L1321.1 595.3L1319.6 599.1L1318.2 602.9L1316.7 606.7L1315.2 610.5L1313.8 614.3L1312.3 618.2L1311.0 622.0L1309.6 625.8L1308.3 629.6L1307.1 633.5L1305.9 637.4L1304.7 641.3L1303.5 645.2L1302.4 649.2L1301.3 653.2L1300.2 657.2L1299.1 661.3L1298.0 665.3L1297.0 669.4L1296.0 673.5L1295.0 677.6L1294.0 681.7L1293.0 685.7L1292.0 689.8L1291.1 693.8L1290.3 697.8L1289.6 701.8L1289.0 705.8L1288.5 709.8L1288.1 713.9L1287.9 718.0L1287.6 722.0L1287.5 726.1L1287.3 730.2L1287.2 734.3L1287.2 738.4L1287.1 742.4L1287.0 746.5L1286.9 750.6L1286.8 754.7L1286.8 756.7" stroke="#2ee02e" stroke-width="2.60"/>
<path d="M1414.5 159.0L1413.7 163.2L1412.9 167.4L1412.1 171.6L1411.3 175.8L1410.6 180.0L1409.8 184.2L1409.1 188.4L1408.3 192.5L1407.6 196.7L1406.8 200.9L1406.0 205.1L1405.3 209.3L1404.5 213.5L1403.6 217.6L1402.8 221.7L1402.0 225.9L1401.2 229.9L1400.4 234.0L1399.7 238.0L1398.8 242.0L1398.0 246.0L1397.1 250.0L1396.2 254.0L1395.2 258.0L1394.2 262.0L1393.1 266.0L1392.1 270.0L1391.1 274.0L1390.2 278.0L1389.4 282.0L1388.6 286.0L1387.8 290.1L1387.2 294.1L1386.5 298.1L1385.8 302.2L1385.1 306.2L1384.5 310.2L1383.8 314.2L1383.2 318.3L1382.5 322.3L1381.8 326.3L1381.2 330.4L1380.5 334.4L1379.9 338.4L1379.2 342.4L1378.5 346.5L1377.8 350.5L1377.2 354.5L1376.5 358.6L1375.8 362.6L1375.2 366.6L1374.5 370.6L1373.8 374.7L1373.2 378.7L1372.5 382.7L1371.8 386.8L1371.1 390.8L1370.3 394.9L1369.6 398.9L1368.8 403.0L1368.1 407.0L1367.4 411.1L1366.8 415.3L1366.2 419.4L1365.7 423.6L1365.2 427.8L1364.8 431.9L1364.4 436.1L1363.9 440.2L1363.3 444.3L1362.8 448.4L1362.2 452.5L1361.6 456.6L1360.9 460.7L1360.3 464.8L1359.6 468.9L1358.9 473.0L1358.2 477.1L1357.5 481.1L1356.8 485.1L1356.1 489.2L1355.4 493.2L1354.7 497.2L1354.0 501.2L1353.3 505.2L1352.5 509.3L1351.8 513.3L1351.1 517.3L1350.3 521.4L1349.5 525.4L1348.6 529.5L1347.7 533.6L1346.7 537.7L1345.7 541.8L1344.6 545.9L1343.4 550.0L1342.2 554.0L1341.0 558.1L1339.7 562.1L1338.3 566.1L1336.9 570.1L1335.5 574.0L1334.1 578.0L1332.7 582.0L1331.3 586.0L1329.8 590.0L1328.3 594.0L1326.6 598.1L1324.9 602.2L1323.2 606.3L1321.3 610.4L1319.5 614.6L1317.7 618.7L1316.0 622.9L1314.3 627.0L1312.7 631.1L1311.2 635.2L1309.7 639.3L1308.3 643.3L1306.9 647.4L1305.6 651.4L1304.3 655.5L1303.0 659.5L1301.8 663.5L1300.5 667.6L1299.3 671.6L1298.1 675.7L1296.9 679.7L1295.7 683.8L1294.6 687.8L1293.5 691.8L1292.5 695.8L1291.6 699.7L1290.8 703.7L1290.1 707.7L1289.6 711.8L1289.1 715.9L1288.7 720.2L1288.3 724.5L1288.0 728.8L1287.8 733.2L1287.6 737.5L1287.4 741.8L1287.3 746.1L1287.2 750.3L1287.1 754.6L1287.1 756.7" stroke="#1414b4" stroke-width="2.60"/>
<path d="M1415.6 150.0L1414.8 154.7L1414.1 159.2L1413.5 163.6L1412.8 168.0L1412.1 172.4L1411.5 176.7L1410.8 180.9L1410.2 185.2L1409.6 189.5L1408.9 193.7L1408.3 198.0L1407.6 202.3L1407.0 206.6L1406.3 210.8L1405.6 215.1L1404.8 219.4L1404.1 223.6L1403.3 227.8L1402.6 231.9L1401.8 236.0L1401.0 240.1L1400.2 244.1L1399.3 248.0L1398.4 252.0L1397.5 256.0L1396.5 260.0L1395.5 264.0L1394.5 268.0L1393.5 272.0L1392.6 276.0L1391.7 280.0L1390.9 284.0L1390.1 288.1L1389.4 292.1L1388.7 296.1L1388.0 300.1L1387.4 304.2L1386.7 308.2L1386.0 312.2L1385.4 316.3L1384.7 320.3L1384.0 324.3L1383.3 328.3L1382.7 332.4L1382.0 336.4L1381.3 340.4L1380.7 344.5L1380.0 348.5L1379.3 352.5L1378.6 356.6L1378.0 360.6L1377.3 364.7L1376.6 368.8L1375.9 372.9L1375.2 377.0L1374.5 381.1L1373.8 385.2L1373.1 389.3L1372.4 393.4L1371.6 397.4L1370.9 401.5L1370.1 405.5L1369.4 409.4L1368.7 413.4L1368.0 417.5L1367.3 421.5L1366.7 425.6L1366.1 429.7L1365.3 433.9L1364.4 438.0L1363.4 442.2L1362.3 446.4L1361.2 450.6L1360.0 454.8L1359.0 458.9L1358.0 463.0L1357.1 467.1L1356.3 471.1L1355.4 475.2L1354.5 479.2L1353.7 483.3L1352.8 487.4L1351.8 491.5L1350.8 495.6L1349.8 499.7L1348.8 503.8L1347.8 507.9L1346.7 512.0L1345.6 516.1L1344.4 520.2L1343.3 524.3L1342.1 528.4L1340.9 532.5L1339.7 536.6L1338.4 540.7L1337.1 544.8L1335.8 548.9L1334.4 553.0L1332.9 557.1L1331.5 561.2L1330.0 565.4L1328.6 569.5L1327.1 573.7L1325.5 577.8L1323.9 581.9L1322.3 586.0L1320.7 590.0L1319.0 593.9L1317.4 597.8L1315.9 601.7L1314.4 605.6L1312.9 609.4L1311.4 613.2L1310.0 617.0L1308.5 620.9L1307.1 624.8L1305.7 628.7L1304.4 632.7L1303.2 636.7L1302.0 640.7L1300.9 644.7L1299.8 648.8L1298.8 652.8L1297.8 656.8L1296.8 660.9L1295.8 665.1L1294.8 669.3L1293.8 673.4L1292.8 677.6L1291.9 681.7L1291.1 685.8L1290.3 689.8L1289.6 693.9L1289.0 698.0L1288.5 702.2L1288.0 706.5L1287.7 710.8L1287.4 715.1L1287.2 719.4L1287.1 723.7L1287.0 727.9L1286.9 732.0L1286.9 736.1L1286.8 740.2L1286.8 744.4L1286.7 748.5L1286.7 752.6L1286.6 756.7" stroke="#000000" stroke-width="2.60"/>
<path d="M1415.6 152.0L1414.8 156.4L1413.9 160.7L1412.9 165.0L1412.0 169.3L1411.1 173.5L1410.2 177.7L1409.2 181.9L1408.2 186.1L1407.3 190.4L1406.3 194.6L1405.2 199.0L1404.2 203.3L1403.1 207.6L1402.1 211.8L1401.2 216.0L1400.3 220.1L1399.4 224.2L1398.5 228.1L1397.5 232.1L1396.5 236.1L1395.5 240.0L1394.4 244.0L1393.3 248.0L1392.2 251.9L1391.1 255.9L1390.0 260.0L1389.0 264.0L1387.9 268.1L1386.9 272.1L1385.8 276.2L1384.8 280.3L1383.8 284.4L1382.8 288.5L1381.7 292.6L1380.6 296.8L1379.6 300.9L1378.5 305.0L1377.4 309.1L1376.3 313.3L1375.3 317.4L1374.3 321.5L1373.4 325.6L1372.6 329.7L1371.8 333.7L1371.0 337.8L1370.2 341.9L1369.4 345.9L1368.6 350.0L1367.8 354.1L1367.1 358.1L1366.3 362.2L1365.5 366.3L1364.6 370.4L1363.8 374.5L1363.0 378.6L1362.1 382.7L1361.3 386.8L1360.4 390.9L1359.5 395.0L1358.7 399.1L1357.8 403.2L1357.0 407.3L1356.1 411.5L1355.2 415.6L1354.3 419.7L1353.3 423.8L1352.4 427.9L1351.5 432.0L1350.6 436.1L1349.6 440.2L1348.7 444.2L1347.8 448.3L1346.8 452.4L1345.9 456.5L1345.0 460.5L1344.0 464.6L1343.1 468.7L1342.1 472.8L1341.2 476.8L1340.3 480.9L1339.4 485.0L1338.5 489.0L1337.7 493.1L1336.8 497.1L1335.9 501.2L1335.0 505.3L1334.1 509.3L1333.2 513.4L1332.3 517.6L1331.3 521.7L1330.4 525.8L1329.5 529.9L1328.5 534.0L1327.6 538.0L1326.7 542.1L1325.8 546.2L1324.9 550.3L1324.0 554.4L1323.1 558.5L1322.2 562.6L1321.3 566.6L1320.2 570.7L1319.1 574.7L1317.9 578.8L1316.7 582.9L1315.7 587.0L1314.7 591.1L1313.8 595.3L1313.1 599.4L1312.3 603.6L1311.5 607.7L1310.5 611.8L1309.4 615.9L1308.2 620.1L1307.0 624.3L1305.8 628.5L1304.7 632.7L1303.6 636.9L1302.5 641.0L1301.5 645.1L1300.6 649.3L1299.5 653.5L1298.3 657.8L1296.9 661.9L1295.5 666.1L1294.2 670.3L1292.9 674.5L1291.6 678.6L1290.5 682.7L1289.5 686.9L1288.8 691.1L1288.2 695.4L1287.6 699.6L1287.2 703.8L1286.9 708.0L1286.7 712.1L1286.6 716.2L1286.6 720.3L1286.6 724.4L1286.6 728.4L1286.6 732.4L1286.6 736.5L1286.6 740.5L1286.6 744.6L1286.6 748.6L1286.6 752.7L1286.6 756.7" stroke="#000000" stroke-width="3.30" stroke-dasharray="8.3 14.7" stroke-linecap="round"/>
</g></g>
<rect x="1286.20" y="36.30" width="275.50" height="720.30" fill="none" stroke="#505050" stroke-width="1.7"/>
<path d="M1286.20 756.60h8.00M1561.70 756.60h-8.00M1286.20 661.82h8.00M1561.70 661.82h-8.00M1286.20 567.05h8.00M1561.70 567.05h-8.00M1286.20 472.27h8.00M1561.70 472.27h-8.00M1286.20 377.49h8.00M1561.70 377.49h-8.00M1286.20 282.72h8.00M1561.70 282.72h-8.00M1286.20 187.94h8.00M1561.70 187.94h-8.00M1286.20 93.17h8.00M1561.70 93.17h-8.00M1286.20 36.30h8.00M1561.70 36.30h-8.00M1286.20 756.60v-8.00M1286.20 36.30v8.00M1423.95 756.60v-8.00M1423.95 36.30v8.00M1561.70 756.60v-8.00M1561.70 36.30v8.00" stroke="#505050" stroke-width="1.7" fill="none"/>
<text x="1275.30" y="768.70" font-size="32.8" text-anchor="end" class="g">0</text>
<text x="1275.30" y="673.92" font-size="32.8" text-anchor="end" class="g">0.05</text>
<text x="1275.30" y="579.15" font-size="32.8" text-anchor="end" class="g">0.1</text>
<text x="1275.30" y="484.37" font-size="32.8" text-anchor="end" class="g">0.15</text>
<text x="1275.30" y="389.59" font-size="32.8" text-anchor="end" class="g">0.2</text>
<text x="1275.30" y="294.82" font-size="32.8" text-anchor="end" class="g">0.25</text>
<text x="1275.30" y="200.04" font-size="32.8" text-anchor="end" class="g">0.3</text>
<text x="1275.30" y="105.27" font-size="32.8" text-anchor="end" class="g">0.35</text>
<text x="1275.30" y="48.40" font-size="32.8" text-anchor="end" class="g">0.38</text>
<text x="1286.20" y="798.70" font-size="32.8" text-anchor="middle" class="g">0</text>
<text x="1423.95" y="798.70" font-size="32.8" text-anchor="middle" class="g">3000</text>
<text x="1561.70" y="798.70" font-size="32.8" text-anchor="middle" class="g">6000</text>
<text x="1423.95" y="841.90" font-size="35.7" text-anchor="middle" class="g">velocity (m/s)</text>
<text x="1423.95" y="26.00" font-size="35.7" text-anchor="middle">t = 93.8μs</text>
</g>
<text transform="translate(26.8 398) rotate(-90)" font-size="35.7" text-anchor="middle" class="g">Distance (m)</text>
<path d="M135.8 69.40H195.7" stroke="#d0142c" stroke-width="2.4"/>
<text x="203" y="80.40" font-size="29.0">Case 1</text>
<path d="M135.8 107.40H195.7" stroke="#2ee02e" stroke-width="2.4"/>
<text x="203" y="118.40" font-size="29.0">Case 2</text>
<path d="M135.8 146.00H195.7" stroke="#1414b4" stroke-width="2.4"/>
<text x="203" y="157.00" font-size="29.0">Case 3</text>
<path d="M135.8 183.50H195.7" stroke="#000000" stroke-width="2.4"/>
<text x="203" y="194.50" font-size="29.0">Case ave.</text>
<path d="M137.6 221.40H195.9" stroke="#000000" stroke-width="3.2" stroke-linecap="round" stroke-dasharray="8.3 14.7"/>
<text x="203" y="232.40" font-size="29.0">Model</text>
</svg></body></html>
